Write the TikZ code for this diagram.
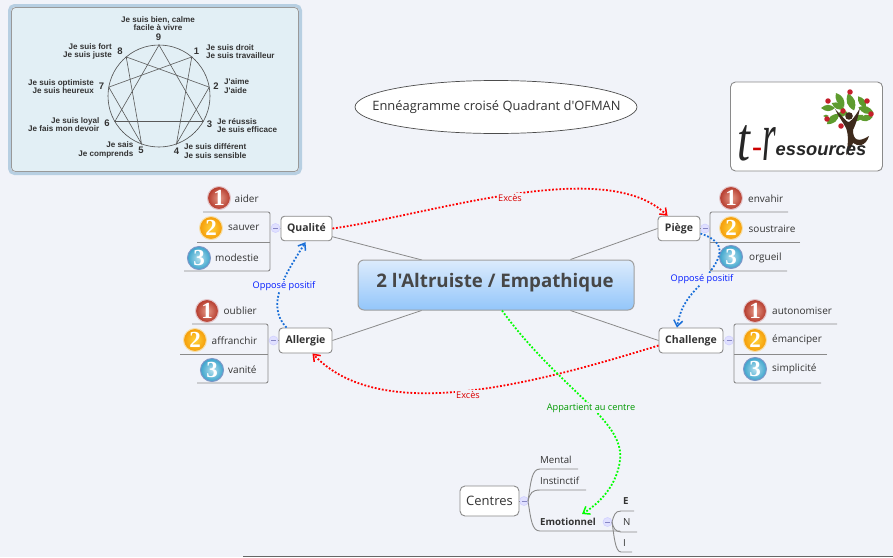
\documentclass[tikz,border=0pt]{standalone}
\usepackage{fontspec}
\setmainfont[Ligatures=TeXOff]{Open Sans}
\newfontfamily\enneafont{Liberation Sans}
\newfontfamily\numfont{Liberation Serif}
\usetikzlibrary{shapes.geometric,arrows.meta,calc}
\definecolor{bgc}{HTML}{F1F3F9}
\definecolor{edgec}{HTML}{8A8A8A}
\definecolor{relblue}{HTML}{1A6FD8}
\definecolor{ink}{HTML}{333333}
\definecolor{leafc}{HTML}{5E9B2E}
\definecolor{applec}{HTML}{C41F2B}
\definecolor{trunkc}{HTML}{3E2A1C}
\definecolor{panelc}{HTML}{E2EFF5}
\definecolor{panelb}{HTML}{B7CFE2}
\definecolor{ctop}{HTML}{DCEBFC}
\definecolor{cbot}{HTML}{93C6FA}
\definecolor{ra}{HTML}{E59A88}\definecolor{rb}{HTML}{B4392B}\definecolor{rr}{HTML}{E3C4C8}
\definecolor{oa}{HTML}{FFD23C}\definecolor{ob}{HTML}{F59C08}\definecolor{or}{HTML}{F6DFA8}
\definecolor{ba}{HTML}{B5E0EE}\definecolor{bb}{HTML}{3CA4CC}\definecolor{br}{HTML}{7C97C8}
\tikzset{
 topic/.style={draw=edgec,fill=white,rounded corners=3.5pt,line width=.9pt,inner sep=0pt,font=\fontsize{10.5}{13}\selectfont\bfseries,text=ink},
 lbl/.style={inner sep=0pt,anchor=west,font=\fontsize{10}{13}\selectfont,text=ink},
 sublbl/.style={lbl,font=\fontsize{9.7}{12}\selectfont},
 sublblb/.style={lbl,font=\fontsize{9.7}{12}\selectfont\bfseries},
 branch/.style={draw=edgec,line width=.9pt},
 link/.style={draw=edgec,line width=.8pt},
 collapse/.style={circle,draw=blue!18,fill=blue!12,minimum size=9pt,inner sep=0pt,line width=.6pt,
   path picture={\draw[blue!35!gray!70,line width=.6pt] ($(path picture bounding box.center)+(-2.5,0)$) -- ($(path picture bounding box.center)+(2.5,0)$);}},
 rel/.style={line width=1.8pt,dash pattern=on 1.8pt off 1.8pt,-{Straight Barb[length=6pt,width=9pt,line width=1.5pt]}},
 rellbl/.style={inner sep=1pt,fill=bgc,font=\fontsize{9.2}{11}\selectfont},
 ennea/.style={inner sep=0pt,align=center,font=\enneafont\fontsize{8.1}{8.3}\selectfont\bfseries,text=black!80},
 enum/.style={inner sep=0pt,font=\enneafont\fontsize{9.5}{10}\selectfont\bfseries,text=black!80},
 apple/.style={circle,fill=applec,inner sep=0pt,minimum size=5.5pt},
}
\newcommand{\badge}[7]{%
 \node[circle,minimum size=23pt,inner sep=0pt,draw=#7,line width=1pt,inner color=#5,outer color=#6] (#1) at (#2,#3) {\numfont\fontsize{23}{23}\selectfont\bfseries\textcolor{white}{#4}};}
\begin{document}
\begin{tikzpicture}[x=1pt,y=-1pt]
\path[fill=bgc] (0,0) rectangle (893,557);
\useasboundingbox (0,0) rectangle (893,557);

% ---- enneagram panel
\node[draw=panelb,line width=3pt,rounded corners=5pt,minimum width=291pt,minimum height=168pt,inner sep=0pt] (panelo) at (155,89.5) {};
\node[draw=gray!80,fill=panelc,line width=.8pt,rounded corners=4pt,minimum width=287pt,minimum height=164pt,inner sep=0pt] (panel) at (155,89.5) {};
\node[circle,draw=black!70,line width=.6pt,minimum size=102pt,inner sep=0pt] (ring) at (159,96) {};
\foreach \i in {0,...,8}{ \coordinate (p\i) at ($(ring.center)+({sin(\i*40)*51},{-cos(\i*40)*51})$); }
\draw[black!65,line width=.6pt] (p0)--(p3)--(p6)--cycle;
\draw[black!65,line width=.6pt] (p1)--(p4)--(p2)--(p8)--(p5)--(p7)--cycle;
\node[enum] (n9) at (158.5,37) {9};
\node[enum] (n1) at (196.5,51.5) {1};
\node[enum] (n2) at (216,86.5) {2};
\node[enum] (n3) at (209.5,124.5) {3};
\node[enum] (n4) at (176.5,151) {4};
\node[enum] (n5) at (141,150) {5};
\node[enum] (n6) at (107,123.5) {6};
\node[enum] (n7) at (101.5,86) {7};
\node[enum] (n8) at (120,51.5) {8};
\node[ennea] (t9) at (158,23.5) {Je suis bien, calme\\facile à vivre};
\node[ennea,align=left,anchor=west] (t1) at (206,51.5) {Je suis droit\\Je suis travailleur};
\node[ennea,align=left,anchor=west] (t2) at (224,86) {J'aime\\J'aide};
\node[ennea,align=left,anchor=west] (t3) at (217,125.5) {Je réussis\\Je suis efficace};
\node[ennea,align=left,anchor=west] (t4) at (184,151) {Je suis différent\\Je suis sensible};
\node[ennea,align=right,anchor=east] (t5) at (133.5,150) {Je sais\\Je comprends};
\node[ennea,align=right,anchor=east] (t6) at (99.5,124.5) {Je suis loyal\\Je fais mon devoir};
\node[ennea,align=right,anchor=east] (t7) at (94,86.5) {Je suis optimiste\\Je suis heureux};
\node[ennea,align=right,anchor=east] (t8) at (112,51.5) {Je suis fort\\Je suis juste};

% ---- title ellipse
\node[ellipse,draw=black!70,fill=white,line width=.7pt,minimum width=282pt,minimum height=53pt,inner sep=0pt] (title) at (496,107) {};
\node[inner sep=0pt,font=\fontsize{12.9}{15}\selectfont,text=ink] (titletxt) at (496.5,107) {Ennéagramme croisé Quadrant d'OFMAN};

% ---- logo
\node[draw=edgec,fill=white,rounded corners=5pt,line width=.9pt,minimum width=152pt,minimum height=89pt,inner sep=0pt] (logo) at (806.5,126.5) {};
\foreach \x/\y/\r/\l in {840/100/60/8,851/102/70/9,862/102/55/7,828/108/0/7,838/106/25/7,866/110/20/8,866/118/-10/7,858/118/-30/6,833/119/-40/8,842/114/-20/6,826/116/0/3}{
 \fill[leafc,rotate around={-\r:(\x,\y)}] (\x-\l,\y) .. controls (\x-\l*.3,\y-\l*.6) and (\x+\l*.3,\y-\l*.6) .. (\x+\l,\y) .. controls (\x+\l*.3,\y+\l*.6) and (\x-\l*.3,\y+\l*.6) .. (\x-\l,\y) -- cycle;
}
\fill[trunkc] (835,109) .. controls (842,116) and (846,121) .. (848,122) .. controls (850,122) and (853,120) .. (860,108) .. controls (858,118) and (855,126) .. (853,130) .. controls (853,140) and (858,143) .. (869,136) .. controls (866,146) and (858,147) .. (853,143) .. controls (851,148) and (850,150) .. (846,155) .. controls (848,146) and (849,135) .. (846,128) .. controls (843,122) and (838,116) .. (835,109) -- cycle;
\fill[trunkc] (849,116) circle (3.8);
\node[apple] (ap1) at (850,92) {};
\node[apple] (ap2) at (828,101) {};
\node[apple] (ap3) at (867,101) {};
\node[apple] (ap4) at (843,111) {};
\node[apple] (ap5) at (871,114) {};
\node[apple] (ap6) at (827,119) {};
\node[apple] (ap7) at (841,126) {};
\node[inner sep=0pt,anchor=base west,xscale=.75,font=\numfont\itshape\fontsize{62}{62}\selectfont,text=black!85] (lt) at (737,160) {t};
\node[inner sep=0pt,anchor=base west,font=\numfont\bfseries\fontsize{30}{30}\selectfont,text=red!80!black] (ld) at (752,156.5) {-};
\node[inner sep=0pt,anchor=base west,xscale=.5,font=\numfont\itshape\fontsize{70}{70}\selectfont,text=black!85] (lr) at (762,160) {r};
\node[inner sep=0pt,anchor=base west,font=\enneafont\itshape\bfseries\fontsize{18.3}{18}\selectfont,text=black!85] (le) at (775.5,155) {essources};

% ---- central & main topics
\draw[link] (306.5,230) coordinate (qlink) -- (422,260) coordinate (cqlink);
\node[draw=gray!75,line width=1pt,rounded corners=6pt,minimum width=276pt,minimum height=50pt,inner sep=0pt,top color=ctop,bottom color=cbot] (central) at (496,285) {};
\node[inner sep=0pt,font=\fontsize{18.7}{20}\selectfont\bfseries,text=black!72] (centraltxt) at (495,283) {2 l'Altruiste / Empathique};

\node[topic,minimum width=51pt,minimum height=24.5pt] (qual) at (306.5,228.5) {Qualité};
\node[topic,minimum width=53pt,minimum height=25pt] (aller) at (305.5,340.5) {Allergie};
\node[topic,minimum width=42pt,minimum height=24.5pt] (piege) at (679,228.5) {Piège};
\node[topic,minimum width=64pt,minimum height=25pt] (chal) at (691,340.5) {Challenge};

\draw[link] (aller.east) -- ($(central.south west)+(64,0)$);
\draw[link] (piege.west) -- ($(central.north east)+(-64,0)$);
\draw[link] (chal.west) -- ($(central.south east)+(-64,0)$);

% ---- Qualité branch
\node[collapse] (cq) at (275.5,228) {};
\draw[link] (qual.west) -- (cq);
\draw[branch,rounded corners=2pt] (203,212) -- (270,212) -- (270,271) -- (184,271);
\draw[branch,rounded corners=2pt] (197,242) -- (270,242);
\badge{q1}{219}{198}{1}{ra}{rb}{rr}
\badge{q2}{211}{228}{2}{oa}{ob}{or}
\badge{q3}{199}{258}{3}{ba}{bb}{br}
\node[lbl] (qt1) at (234.5,199) {aider};
\node[lbl] (qt2) at (228,228) {sauver};
\node[lbl] (qt3) at (215,258) {modestie};

% ---- Allergie branch
\node[collapse] (ca) at (273.5,340.5) {};
\draw[link] (aller.west) -- (ca);
\draw[branch,rounded corners=2pt] (192,324) -- (268,324) -- (268,383) -- (197,383);
\draw[branch,rounded corners=2pt] (180,354) -- (268,354);
\badge{a1}{207}{311}{1}{ra}{rb}{rr}
\badge{a2}{195}{340}{2}{oa}{ob}{or}
\badge{a3}{212}{370}{3}{ba}{bb}{br}
\node[lbl] (at1) at (223.5,311) {oublier};
\node[lbl] (at2) at (211.5,341) {affranchir};
\node[lbl] (at3) at (228,370) {vanité};

% ---- Piège branch
\node[collapse] (cp) at (705,228.5) {};
\draw[link] (piege.east) -- (cp);
\draw[branch,rounded corners=2pt] (788,212) -- (710,212) -- (710,271) -- (787,271);
\draw[branch,rounded corners=2pt] (800,242) -- (710,242);
\badge{p1x}{731}{198}{1}{ra}{rb}{rr}
\badge{p2x}{731}{228}{2}{oa}{ob}{or}
\badge{p3x}{731}{257}{3}{ba}{bb}{br}
\node[lbl] (pt1) at (748,199) {envahir};
\node[lbl] (pt2) at (748.5,229) {soustraire};
\node[lbl] (pt3) at (749,257.5) {orgueil};

% ---- Challenge branch
\node[collapse] (cc) at (729,340.5) {};
\draw[link] (chal.east) -- (cc);
\draw[branch,rounded corners=2pt] (837,324) -- (734,324) -- (734,383) -- (821,383);
\draw[branch,rounded corners=2pt] (827,354) -- (734,354);
\badge{c1}{755}{311}{1}{ra}{rb}{rr}
\badge{c2}{755}{340}{2}{oa}{ob}{or}
\badge{c3}{755}{369}{3}{ba}{bb}{br}
\node[lbl] (ct1) at (772,311) {autonomiser};
\node[lbl] (ct2) at (772,340) {émanciper};
\node[lbl] (ct3) at (772,369) {simplicité};

% ---- Centres
\node[draw=edgec,fill=white,rounded corners=5pt,line width=.9pt,minimum width=59pt,minimum height=30pt,inner sep=0pt,font=\fontsize{13}{15}\selectfont,text=ink] (centres) at (489.5,501) {Centres};
\node[collapse] (cz) at (524,501) {};
\draw[link] (centres.east) -- (cz);
\coordinate (zb) at (528,501);
\draw[branch] (zb) .. controls (531,480) and (532,469) .. (540,469) -- (578,469);
\draw[branch] (zb) .. controls (530,493) and (532,490) .. (540,490) -- (586,490);
\draw[branch] (zb) .. controls (531,520) and (532,531) .. (540,531) -- (620,531);
\node[sublbl] (zt1) at (540,460) {Mental};
\node[sublbl] (zt2) at (540,481) {Instinctif};
\node[sublblb] (zt3) at (540,522) {Emotionnel};
\node[collapse] (ce) at (607.5,522) {};
\coordinate (eb) at (612,522);
\draw[branch] (eb) .. controls (614,515) and (615,511) .. (621,511) -- (634,511);
\draw[branch] (eb) .. controls (613,527) and (615,532) .. (621,532) -- (637,532);
\draw[branch] (eb) .. controls (614,535) and (615,552) .. (621,552) -- (632,552);
\node[sublblb] (et1) at (623,501) {E};
\node[sublbl] (et2) at (623,522) {N};
\node[sublbl] (et3) at (623,543) {I};

% ---- bottom rule
\coordinate (rl) at (243,556);
\coordinate (rr1) at (893,556);
\draw[black!60,line width=.9pt] (rl) -- (rr1);

% ---- relationships
\coordinate (p1e) at ($(piege.north west)+(10,0)$);
\draw[rel,draw=red] (qual.east) .. controls (430,215) and (605,155) .. (p1e);
\node[rellbl,text=red!85!black] (ex1) at (510,198) {Excès};
\draw[rel,draw=red] ($(chal.west)+(0,5)$) .. controls (530,385) and (380,425) .. ($(aller.south)+(7,0)$);
\node[rellbl,text=red!85!black] (ex2) at (468,395) {Excès};
\draw[rel,draw=relblue] ($(aller.north)+(-19,0)$) .. controls (265,305) and (285,275) .. ($(qual.south)+(-1,1)$);
\node[rellbl,text=blue!90!cyan] (op1) at (284,286) {Opposé positif};
\draw[rel,draw=relblue] ($(piege.east)+(0,5)$) .. controls (735,245) and (715,265) .. (700,285) .. controls (685,300) and (680,310) .. ($(chal.north)+(-14,0)$);
\node[rellbl,text=blue!90!cyan] (op2) at (702,279) {Opposé positif};
\draw[rel,draw=green] ($(central.south)+(6,0)$) .. controls (560,390) and (625,420) .. (620,460) .. controls (617,485) and (600,503) .. (582,514);
\node[rellbl,text=green!60!black] (ap) at (591,408) {Appartient au centre};
\end{tikzpicture}
\end{document}
